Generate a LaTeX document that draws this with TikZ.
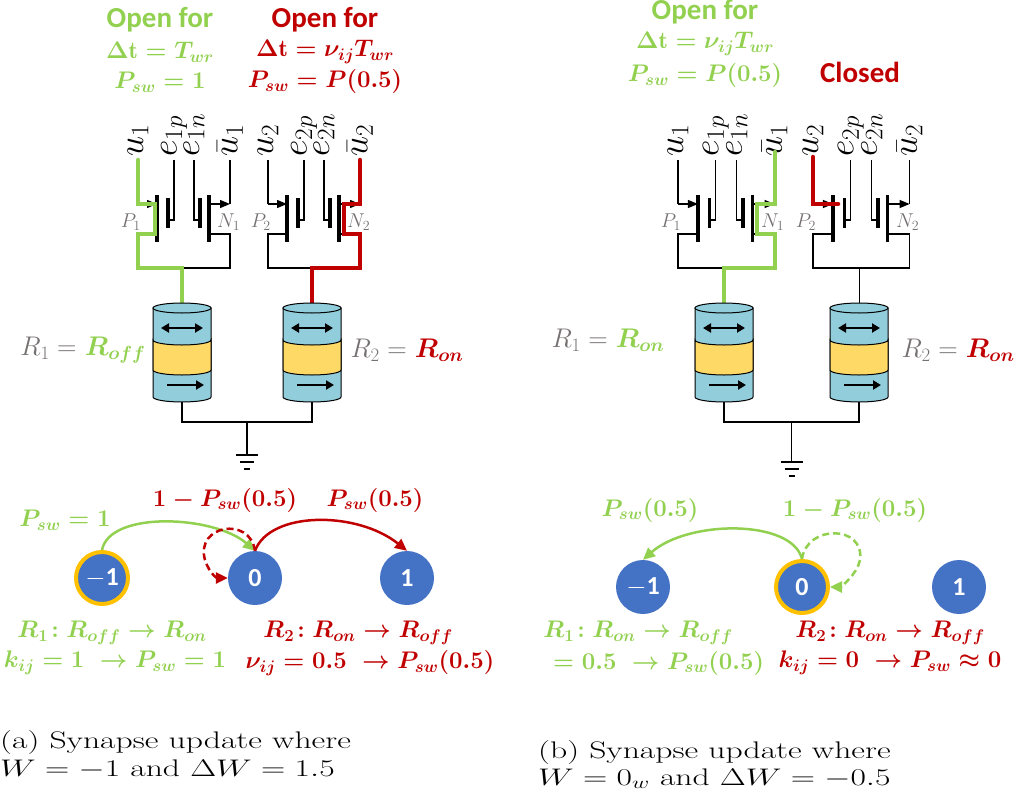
\RequirePackage{fix-cm}
\documentclass[tikz,border=0pt]{standalone}
\usepackage{fontspec}
\usepackage{amsmath}
\usepackage{graphicx}
\newfontfamily\cbr{Carlito}
\usetikzlibrary{arrows.meta}
\definecolor{gr}{RGB}{146,208,80}
\definecolor{rd}{RGB}{192,0,0}
\definecolor{gy}{RGB}{118,113,113}
\definecolor{nb}{RGB}{68,114,196}
\definecolor{org}{RGB}{255,192,0}
\definecolor{cy}{RGB}{146,205,220}
\definecolor{yl}{RGB}{255,217,102}
\tikzset{
 w/.style={line width=1.3pt,line join=miter},
 bar/.style={line width=3.5pt},
 hl/.style={line width=4.5pt,line join=miter,line cap=round},
 tip/.style={-{Triangle[length=10pt,width=8pt]}},
 lab/.style={font=\fontsize{36}{38}\selectfont,inner sep=1pt},
 glab/.style={font=\fontsize{20}{22}\selectfont,text=gy,inner sep=0pt},
 bl/.style={font=\fontsize{24}{26}\selectfont\boldmath,inner sep=0pt},
 hd/.style={font=\fontsize{29}{31}\selectfont\cbr\bfseries,inner sep=0pt},
 st/.style={circle,fill=nb,minimum size=54pt,inner sep=0pt,text=white,font=\fontsize{26}{28}\selectfont\cbr\bfseries},
 cur/.style={st,draw=org,line width=4pt,minimum size=52pt},
 arr/.style={line width=2.5pt,-{Triangle[length=12pt,width=11pt]}},
 captxt/.style={font=\fontsize{24}{26}\selectfont,inner sep=0pt,anchor=base west},
 rlab/.style={font=\fontsize{27}{29}\selectfont,inner sep=0pt},
}
\newcommand\pair[3]{%
\begin{scope}[shift={(#1,0)},xscale=#2]
 \draw[w] (0,160) -- (0,204);
 \draw[w,tip] (0,204) -- (19,204);
 \draw[bar] (19,195) -- (19,242);
 \draw[bar] (30,198) -- (30,228);
 \draw[w] (36,160) -- (36,220) -- (30,220);
 \draw[w] (19,234) -- (0,234) -- (0,268) -- (92,268) -- (92,234) -- (71,234);
 \draw[w] (44,268) -- (44,308);
 \draw[w] (56,160) -- (56,220) -- (62,220);
 \draw[bar] (62,198) -- (62,228);
 \draw[bar] (71,195) -- (71,242);
 \draw[w,tip] (71,204) -- (92,204);
 \draw[w] (92,204) -- (92,160);
 \node[lab,anchor=west,rotate=90] (u#3) at (0,158) {$u_{#3}$};
 \node[lab,anchor=west,rotate=90] (ep#3) at (36,158) {$e_{#3p}$};
 \node[lab,anchor=west,rotate=90] (en#3) at (56,158) {$e_{#3n}$};
 \node[lab,anchor=west,rotate=90] (ub#3) at (92,158) {$\bar{u}_{#3}$};
 \node[glab,anchor=east] (P#3) at (3,222) {$P_{#3}$};
 \node[glab,anchor=west] (N#3) at (79,222) {$N_{#3}$};
\end{scope}}
\newcommand\mtj[1]{%
 \fill[cy,draw=black,line width=1pt] (#1-29,308) -- (#1-29,397) arc[start angle=180,end angle=0,x radius=29,y radius=5] -- (#1+29,308) -- cycle;
 \fill[yl,draw=black,line width=1pt] (#1-29,340) arc[start angle=180,end angle=0,x radius=29,y radius=5] -- (#1+29,370) arc[start angle=0,end angle=180,x radius=29,y radius=5] -- cycle;
 \draw[fill=cy,line width=1pt] (#1,308) ellipse[x radius=29,y radius=5];
 \draw[line width=2pt,{Triangle[length=8pt,width=9pt]}-{Triangle[length=8pt,width=9pt]}] (#1-21,328) -- (#1+21,328);
 \draw[line width=2pt,-{Triangle[length=8pt,width=9pt]}] (#1-15,385) -- (#1+22,385);
}
\newcommand\gnd[3]{%
 \draw[w] (#1,402) -- (#1,422) -- (#2,422) -- (#2,402);
 \draw[w] ({(#1+#2)/2},422) -- ({(#1+#2)/2},#3);
 \draw[line width=2.5pt] ({(#1+#2)/2-11},#3) -- ({(#1+#2)/2+11},#3);
 \draw[line width=2.5pt] ({(#1+#2)/2-7},#3+7) -- ({(#1+#2)/2+7},#3+7);
 \draw[line width=2.5pt] ({(#1+#2)/2-3},#3+14) -- ({(#1+#2)/2+3},#3+14);
}
\begin{document}
\begin{tikzpicture}[x=1pt,y=-1pt]
\useasboundingbox (0,0) rectangle (1025,797);
% ---------------- panel (a)
\pair{138}{1}{1}
\pair{268}{1}{2}
\draw[hl,gr] (138,160) -- (138,204) -- (155,204) -- (155,234) -- (138,234) -- (138,268) -- (182,268) -- (182,308);
\draw[hl,rd] (360,160) -- (360,204) -- (344,204) -- (344,234) -- (360,234) -- (360,268) -- (312,268) -- (312,308);
\mtj{182}\mtj{312}
\gnd{182}{312}{455}
\node[hd,text=gr] (ha1) at (160,20) {Open for};
\node[bl,text=gr] (ha2) at (160,52) {$\Delta\mathrm{t} = T_{wr}$};
\node[bl,text=gr] (ha3) at (160,82) {$P_{sw} = 1$};
\node[hd,text=rd] (hb1) at (325,20) {Open for};
\node[bl,text=rd] (hb2) at (325,52) {$\Delta\mathrm{t} = \nu_{ij}T_{wr}$};
\node[bl,text=rd] (hb3) at (325,82) {$P_{sw} = P(0.5)$};
\node[rlab] (ra1) at (83,350) {\textcolor{gy}{$R_1 =$} \textcolor{gr}{\boldmath$R_{off}$}};
\node[rlab] (ra2) at (407,350) {\textcolor{gy}{$R_2 =$} \textcolor{rd}{\boldmath$R_{on}$}};
\node[cur] (am) at (102,578) {$-$1};
\node[st] (a0) at (255,578) {0};
\node[st] (a1) at (407,578) {1};
\draw[arr,gr] (am.north) .. controls +(8,-40) and +(-40,-35) .. (a0.north);
\draw[arr,rd] (a0.north) .. controls +(15,-40) and +(-50,-40) .. (a1.north);
\draw[arr,rd,dash pattern=on 7pt off 4pt] (a0.north) .. controls +(-5,-35) and +(-10,-35) .. (205,560) .. controls +(5,15) and +(-10,0) .. (a0.west);
\node[bl,text=gr] (la1) at (65,520) {$P_{sw} = 1$};
\node[bl,text=rd] (la2) at (225,500) {$1 - P_{sw}(0.5)$};
\node[bl,text=rd] (la3) at (375,500) {$P_{sw}(0.5)$};
\node[bl,text=gr] (ba1) at (112,633) {$R_1\!: R_{off} \rightarrow R_{on}$};
\node[bl,text=gr] (ba2) at (115,663) {$k_{ij} = 1\; \rightarrow P_{sw} = 1$};
\node[bl,text=rd] (bb1) at (358,633) {$R_2\!: R_{on} \rightarrow R_{off}$};
\node[bl,text=rd] (bb2) at (370,663) {$\nu_{ij} = 0.5\; \rightarrow P_{sw}(0.5)$};
\node[captxt] (capa1) at (0,748) {\scalebox{1.4}[1]{(a) Synapse update where}};
\node[captxt] (capa2) at (0,776) {\scalebox{1.4}[1]{$W=-1$ and $\Delta W=1.5$}};
% ---------------- panel (b)
\pair{678}{1.05}{1}
\pair{813}{1.05}{2}
\draw[hl,gr] (775,152) -- (775,204) -- (757,204) -- (757,234) -- (775,234) -- (775,268) -- (724,268) -- (724,308);
\draw[hl,rd] (813,157) -- (813,204) -- (838,204);
\mtj{724}\mtj{859}
\gnd{724}{859}{462}
\node[hd,text=gr] (hc1) at (705,12) {Open for};
\node[bl,text=gr] (hc2) at (705,44) {$\Delta\mathrm{t} = \nu_{ij}T_{wr}$};
\node[bl,text=gr] (hc3) at (705,76) {$P_{sw} = P(0.5)$};
\node[hd,text=rd] (hd1) at (860,72) {Closed};
\node[rlab] (rb1) at (608,340) {\textcolor{gy}{$R_1 =$} \textcolor{gr}{\boldmath$R_{on}$}};
\node[rlab] (rb2) at (958,350) {\textcolor{gy}{$R_2 =$} \textcolor{rd}{\boldmath$R_{on}$}};
\node[st] (bm) at (643,587) {$-$1};
\node[cur] (b0) at (802,587) {0};
\node[st] (b1) at (959,587) {1};
\draw[arr,gr] (b0.north) .. controls +(-10,-40) and +(45,-40) .. (bm.north);
\draw[arr,gr,dash pattern=on 7pt off 4pt] (b0.north) .. controls +(5,-35) and +(5,-35) .. (860,560) .. controls +(-3,15) and +(10,0) .. (b0.east);
\node[bl,text=gr] (lb1) at (650,510) {$P_{sw}(0.5)$};
\node[bl,text=gr] (lb2) at (855,510) {$1 - P_{sw}(0.5)$};
\node[bl,text=gr] (bc1) at (638,633) {$R_1\!: R_{on} \rightarrow R_{off}$};
\node[bl,text=gr,anchor=west] (bc2) at (553,663) {$= 0.5\; \rightarrow P_{sw}(0.5)$};
\node[bl,text=rd] (bd1) at (890,633) {$R_2\!: R_{on} \rightarrow R_{off}$};
\node[bl,text=rd] (bd2) at (890,663) {$k_{ij} = 0\; \rightarrow P_{sw} \approx 0$};
\node[captxt] (capb1) at (538,758) {\scalebox{1.4}[1]{(b) Synapse update where}};
\node[captxt] (capb2) at (538,785) {\scalebox{1.4}[1]{$W=0_w$ and $\Delta W=-0.5$}};
\end{tikzpicture}
\end{document}
